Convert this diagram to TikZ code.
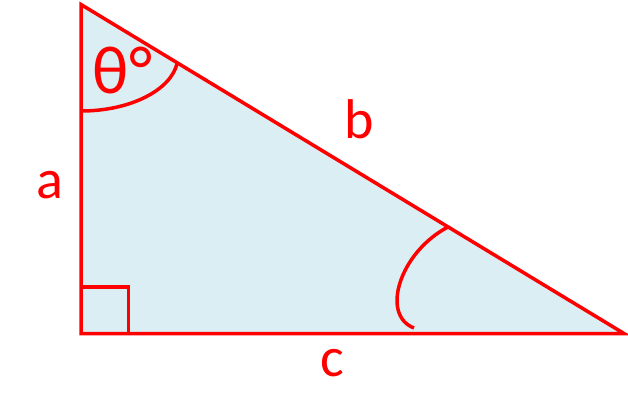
\documentclass[tikz,border=0pt]{standalone}
\usepackage{fontspec}
\setmainfont{Carlito}
\definecolor{trifill}{HTML}{DAEEF3}
\definecolor{trired}{HTML}{FF0000}
\tikzset{
  edge/.style={draw=trired, line width=3.5pt},
  lbl/.style={text=trired, inner sep=0pt, anchor=base, font=\fontsize{56}{60}\selectfont}
}
\begin{document}
\begin{tikzpicture}[x=1pt, y=-1pt]
\useasboundingbox (0,0) rectangle (628,401);
\coordinate (A) at (81,4.5);
\coordinate (B) at (81,333.5);
\coordinate (C) at (624,333.5);
\fill[trifill] (A) -- (B) -- (C) -- cycle;
% right angle mark
\draw[edge] (81,287) -- (128.5,287) -- (128.5,333.5);
% angle arcs
\draw[edge] (81,111) arc[start angle=90, end angle=7, x radius=97, y radius=55];
\draw[edge] (448,227) .. controls (400,252) and (380,315) .. (414,328);
% triangle
\draw[edge, line join=miter] (A) -- (B) -- (C) -- cycle;
% labels
\node[lbl] (la) at (49.5,198) {a};
\node[lbl] (lb) at (359,138) {b};
\node[lbl] (lc) at (332,376) {c};
\node[lbl, font=\fontsize{68}{72}\selectfont] (lt) at (122.5,93) {θ°};
\end{tikzpicture}
\end{document}
